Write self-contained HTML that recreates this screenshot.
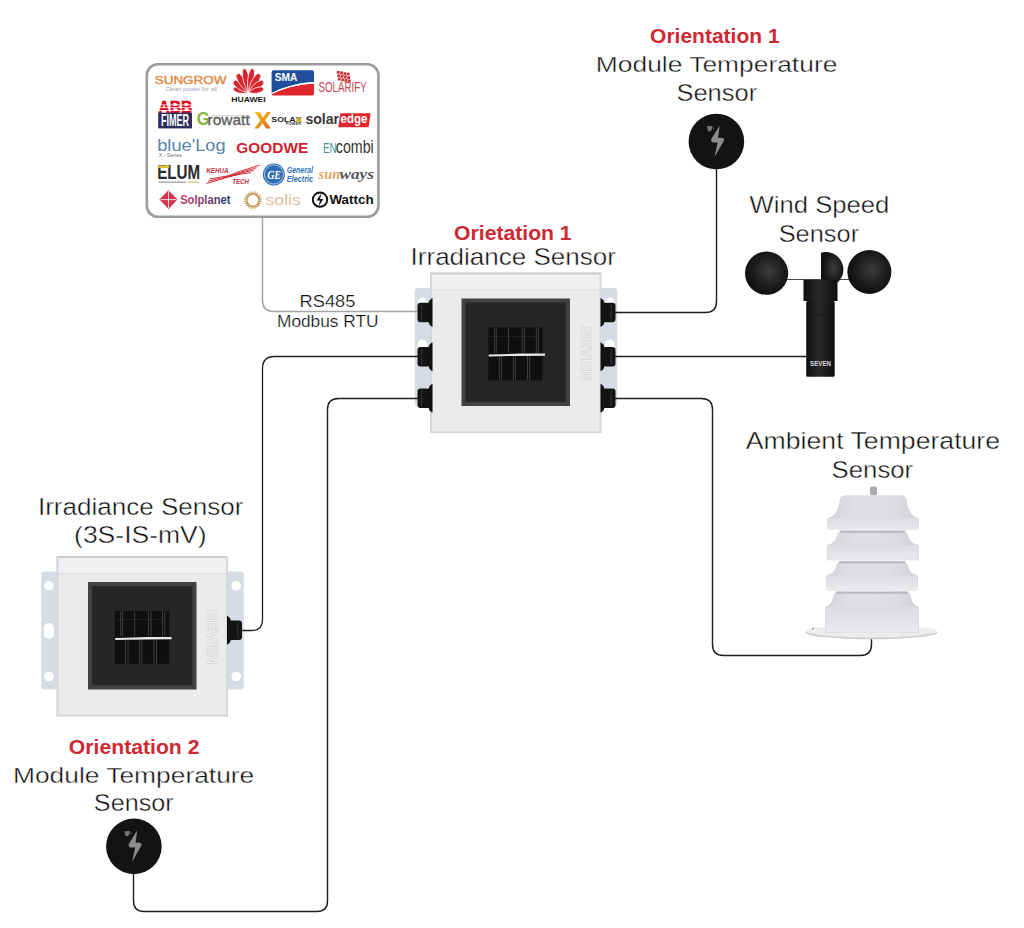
<!DOCTYPE html>
<html><head><meta charset="utf-8"><style>
html,body{margin:0;padding:0;background:#fff;width:1024px;height:928px;overflow:hidden}
svg{display:block}
</style></head><body>
<svg width="1024" height="928" viewBox="0 0 1024 928">
<rect width="1024" height="928" fill="#fff"/>
<rect x="146.8" y="64.3" width="231.6" height="152.4" rx="11" fill="#fff" stroke="#9c9c9c" stroke-width="2.6"/>
<text x="154.69" y="83.7" font-size="11.48" textLength="71.76" lengthAdjust="spacingAndGlyphs" fill="#e08c48" font-weight="normal" font-style="normal" font-family='"Liberation Sans", sans-serif' stroke="#e08c48" stroke-width="0.45">SUNGROW</text><text x="165.18" y="90.6" font-size="4.97" textLength="51.73" lengthAdjust="spacingAndGlyphs" fill="#a0a4b4" font-weight="normal" font-style="normal" font-family='"Liberation Sans", sans-serif' >Clean power for all</text><path d="M0,0 Q4.68,-8.25 1.80,-15.00 Q0,-16.20 -1.80,-15.00 Q-4.68,-8.25 0,0 Z" transform="translate(248.4,92.5) rotate(-76)" fill="#d9262e" stroke="#fff" stroke-width="0.7"/><path d="M0,0 Q5.20,-9.90 2.00,-18.00 Q0,-19.20 -2.00,-18.00 Q-5.20,-9.90 0,0 Z" transform="translate(248.4,92.5) rotate(-53)" fill="#d9262e" stroke="#fff" stroke-width="0.7"/><path d="M0,0 Q5.33,-11.55 2.05,-21.00 Q0,-22.20 -2.05,-21.00 Q-5.33,-11.55 0,0 Z" transform="translate(248.4,92.5) rotate(-31)" fill="#d9262e" stroke="#fff" stroke-width="0.7"/><path d="M0,0 Q4.94,-12.93 1.90,-23.50 Q0,-24.70 -1.90,-23.50 Q-4.94,-12.93 0,0 Z" transform="translate(248.4,92.5) rotate(-10)" fill="#d9262e" stroke="#fff" stroke-width="0.7"/><path d="M0,0 Q4.94,-12.93 1.90,-23.50 Q0,-24.70 -1.90,-23.50 Q-4.94,-12.93 0,0 Z" transform="translate(248.4,92.5) rotate(10)" fill="#d9262e" stroke="#fff" stroke-width="0.7"/><path d="M0,0 Q5.33,-11.55 2.05,-21.00 Q0,-22.20 -2.05,-21.00 Q-5.33,-11.55 0,0 Z" transform="translate(248.4,92.5) rotate(31)" fill="#d9262e" stroke="#fff" stroke-width="0.7"/><path d="M0,0 Q5.20,-9.90 2.00,-18.00 Q0,-19.20 -2.00,-18.00 Q-5.20,-9.90 0,0 Z" transform="translate(248.4,92.5) rotate(53)" fill="#d9262e" stroke="#fff" stroke-width="0.7"/><path d="M0,0 Q4.68,-8.25 1.80,-15.00 Q0,-16.20 -1.80,-15.00 Q-4.68,-8.25 0,0 Z" transform="translate(248.4,92.5) rotate(76)" fill="#d9262e" stroke="#fff" stroke-width="0.7"/><text x="231.23" y="102.1" font-size="7.27" textLength="34.44" lengthAdjust="spacingAndGlyphs" fill="#1a1a1a" font-weight="bold" font-style="normal" font-family='"Liberation Sans", sans-serif' >HUAWEI</text><path d="M271.6,72.3 Q271.6,70.3 273.6,70.3 L312,70.3 Q314,70.3 314,72.3 L314,82 Q292,83 271.6,93 Z" fill="#1f4f9a"/><path d="M271.6,94 Q292,84.5 314,83.5 L314,93.6 Q314,95.6 312,95.6 L273.6,95.6 Q271.6,95.6 271.6,93.6 Z" fill="#e1252f"/><path d="M271.6,93 Q292,83 314,82 L314,83.5 Q292,84.5 271.6,94 Z" fill="#fff"/><text x="274.71" y="81" font-size="10.17" textLength="22.56" lengthAdjust="spacingAndGlyphs" fill="#fff" font-weight="bold" font-style="normal" font-family='"Liberation Sans", sans-serif' >SMA</text><g transform="translate(10,0)"><rect x="337.0" y="71.0" width="2.8" height="2.8" fill="#c8343e" transform="skewX(-8)" /><rect x="340.4" y="71.6" width="2.8" height="2.8" fill="#c8343e" transform="skewX(-8)" /><rect x="343.8" y="72.2" width="2.8" height="2.8" fill="#c8343e" transform="skewX(-8)" /><rect x="347.2" y="72.8" width="2.8" height="2.8" fill="#c8343e" transform="skewX(-8)" /><rect x="338.0" y="74.4" width="2.8" height="2.8" fill="#c8343e" transform="skewX(-8)" /><rect x="341.4" y="75.0" width="2.8" height="2.8" fill="#c8343e" transform="skewX(-8)" /><rect x="344.8" y="75.6" width="2.8" height="2.8" fill="#c8343e" transform="skewX(-8)" /><rect x="348.2" y="76.2" width="2.8" height="2.8" fill="#c8343e" transform="skewX(-8)" /><rect x="339.0" y="77.8" width="2.8" height="2.8" fill="#c8343e" transform="skewX(-8)" /><rect x="342.4" y="78.4" width="2.8" height="2.8" fill="#c8343e" transform="skewX(-8)" /><rect x="345.8" y="79.0" width="2.8" height="2.8" fill="#c8343e" transform="skewX(-8)" /><rect x="349.2" y="79.6" width="2.8" height="2.8" fill="#c8343e" transform="skewX(-8)" /></g><text x="318.46" y="92.3" font-size="14.39" textLength="48.26" lengthAdjust="spacingAndGlyphs" fill="#c8464e" font-weight="normal" font-style="normal" font-family='"Liberation Sans", sans-serif' >SOLARIFY</text><text x="158.41" y="112.6" font-size="17.01" textLength="33.9" lengthAdjust="spacingAndGlyphs" fill="#e1001a" font-weight="bold" font-style="normal" font-family='"Liberation Sans", sans-serif' stroke="#e1001a" stroke-width="0.6">ABB</text><rect x="158.6" y="104.5" width="33.2" height="0.8" fill="#fff"/><rect x="158.6" y="107.3" width="33.2" height="0.8" fill="#fff"/><rect x="158.6" y="110" width="33.2" height="0.8" fill="#fff"/><rect x="158.2" y="112.6" width="33.8" height="15.8" fill="#2c2e5e"/><text x="160.9" y="126.3" font-size="16.57" textLength="28.09" lengthAdjust="spacingAndGlyphs" fill="#fff" font-weight="bold" font-style="normal" font-family='"Liberation Sans", sans-serif' >FIMER</text><text x="196.83" y="124.9" font-size="17.88" textLength="12.79" lengthAdjust="spacingAndGlyphs" fill="#7db443" font-weight="bold" font-style="normal" font-family='"Liberation Sans", sans-serif' >G</text><text x="207.57" y="124.9" font-size="15.52" textLength="42.14" lengthAdjust="spacingAndGlyphs" fill="#5e5e5e" font-weight="normal" font-style="normal" font-family='"Liberation Sans", sans-serif' stroke="#5e5e5e" stroke-width="0.35">rowatt</text><rect x="212" y="115.6" width="38" height="0.6" fill="#b0b0b0"/><defs><linearGradient id="sx" x1="0" y1="0" x2="1" y2="1"><stop offset="0" stop-color="#f5c518"/><stop offset="1" stop-color="#e2661a"/></linearGradient></defs><path d="M254.6,112 L259.6,112 L262.8,117.8 L267,112 L271,112 L265,120.3 L271,128.6 L266,128.6 L262.6,123 L258.6,128.6 L254.4,128.6 L260.4,120.3 Z" fill="url(#sx)"/><text x="271.35" y="122.2" font-size="6.4" textLength="30.13" lengthAdjust="spacingAndGlyphs" fill="#222" font-weight="bold" font-style="normal" font-family='"Liberation Sans", sans-serif' >SOLAX</text><rect x="296" y="117.8" width="5.4" height="4.4" fill="#f0c020" opacity="0.7"/><text x="285.73" y="125.4" font-size="3.2" textLength="15.36" lengthAdjust="spacingAndGlyphs" fill="#444" font-weight="bold" font-style="normal" font-family='"Liberation Sans", sans-serif' >POWER</text><text x="305.4" y="123.5" font-size="14.21" textLength="33.71" lengthAdjust="spacingAndGlyphs" fill="#383838" font-weight="bold" font-style="normal" font-family='"Liberation Sans", sans-serif' >solar</text><path d="M340.4,113.3 L370.6,113.3 L368.6,127.3 L338.2,127.3 Z" fill="#e2262c"/><text x="340.55" y="123.2" font-size="12.7" textLength="26.84" lengthAdjust="spacingAndGlyphs" fill="#fff" font-weight="bold" font-style="normal" font-family='"Liberation Sans", sans-serif' >edge</text><text x="157.23" y="150.5" font-size="16.15" textLength="68.35" lengthAdjust="spacingAndGlyphs" fill="#5884ab" font-weight="normal" font-style="normal" font-family='"Liberation Sans", sans-serif' >blue'Log</text><text x="158.68" y="156.7" font-size="5.23" textLength="23.11" lengthAdjust="spacingAndGlyphs" fill="#707070" font-weight="normal" font-style="normal" font-family='"Liberation Sans", sans-serif' >X - Series</text><text x="236.37" y="152.7" font-size="14.24" textLength="71.83" lengthAdjust="spacingAndGlyphs" fill="#d01f2e" font-weight="bold" font-style="normal" font-family='"Liberation Sans", sans-serif' >GOODWE</text><text x="322.89" y="153.4" font-size="13.81" textLength="13.71" lengthAdjust="spacingAndGlyphs" fill="#3d9a9c" font-weight="normal" font-style="normal" font-family='"Liberation Sans", sans-serif' >EN</text><text x="335.8" y="153.4" font-size="18.08" textLength="37.96" lengthAdjust="spacingAndGlyphs" fill="#333" font-weight="normal" font-style="normal" font-family='"Liberation Sans", sans-serif' >combi</text><text x="157.18" y="179.1" font-size="19.62" textLength="43.03" lengthAdjust="spacingAndGlyphs" fill="#2b2b2b" font-weight="bold" font-style="normal" font-family='"Liberation Sans", sans-serif' >ELUM</text><rect x="158.2" y="165.4" width="11" height="2.6" fill="#e2c33c"/><rect x="158.4" y="181.6" width="28" height="1.2" fill="#9a9a9a"/><rect x="188" y="181.6" width="11" height="1.2" fill="#d9c070"/><text x="206.19" y="172.6" font-size="6.69" textLength="22.26" lengthAdjust="spacingAndGlyphs" fill="#c7303e" font-weight="bold" font-style="italic" font-family='"Liberation Sans", sans-serif' >KEHUA</text><path d="M224.0,177.5 Q242,170.0 259.6,165.3" fill="none" stroke="#d6343f" stroke-width="1.05"/><path d="M226.0,177.1 Q242,171.2 256.6,167.8" fill="none" stroke="#d6343f" stroke-width="1.05"/><path d="M228.0,176.7 Q242,172.4 253.6,170.3" fill="none" stroke="#d6343f" stroke-width="1.05"/><path d="M230.0,176.3 Q242,173.6 250.6,172.8" fill="none" stroke="#d6343f" stroke-width="1.05"/><path d="M206.5,183.6 Q222,179.0 240.0,173.5" fill="none" stroke="#d6343f" stroke-width="1.05"/><path d="M208.0,181.3 Q222,177.8 239.0,174.0" fill="none" stroke="#d6343f" stroke-width="1.05"/><path d="M209.5,179.0 Q222,176.6 238.0,174.5" fill="none" stroke="#d6343f" stroke-width="1.05"/><text x="232.16" y="183.8" font-size="7.7" textLength="16.73" lengthAdjust="spacingAndGlyphs" fill="#c7303e" font-weight="bold" font-style="italic" font-family='"Liberation Sans", sans-serif' >TECH</text><circle cx="273.9" cy="174.5" r="11" fill="#2f6db4"/><circle cx="273.9" cy="174.5" r="9.6" fill="none" stroke="#fff" stroke-width="0.6"/><text x="267.16" y="179" font-size="13.08" textLength="13.79" lengthAdjust="spacingAndGlyphs" fill="#fff" font-weight="bold" font-style="italic" font-family='"Liberation Serif", serif' >GE</text><text x="286.66" y="173.3" font-size="8.87" textLength="26.22" lengthAdjust="spacingAndGlyphs" fill="#3070b4" font-weight="bold" font-style="italic" font-family='"Liberation Sans", sans-serif' >General</text><text x="286.87" y="181.9" font-size="9.88" textLength="26.23" lengthAdjust="spacingAndGlyphs" fill="#3070b4" font-weight="bold" font-style="italic" font-family='"Liberation Sans", sans-serif' >Electric</text><text x="318.58" y="179.4" font-size="14.01" textLength="21.63" lengthAdjust="spacingAndGlyphs" fill="#e6a66a" font-weight="bold" font-style="italic" font-family='"Liberation Serif", serif' >sun</text><text x="339.48" y="179.4" font-size="14.01" textLength="34.45" lengthAdjust="spacingAndGlyphs" fill="#555" font-weight="bold" font-style="italic" font-family='"Liberation Serif", serif' >ways</text><path d="M168.5,190.3 L177.5,199.6 L168.5,209 L159.4,199.6 Z" fill="#d8344e"/><path d="M168.5,191 L168.5,208 M160.5,199.6 L176.5,199.6" stroke="#fff" stroke-width="0.8"/><defs><linearGradient id="spg" x1="0" x2="1"><stop offset="0" stop-color="#c83a68"/><stop offset="1" stop-color="#2c3a72"/></linearGradient></defs><text x="180.18" y="204.3" font-size="11.92" textLength="50.26" lengthAdjust="spacingAndGlyphs" fill="url(#spg)" font-weight="bold" font-style="normal" font-family='"Liberation Sans", sans-serif' >Solplanet</text><path d="M-1,-6 L0,-10 L1,-6 Z" fill="#c8955a" transform="translate(252.9,200.2) rotate(0.0)"/><path d="M-1,-6 L0,-10 L1,-6 Z" fill="#c8955a" transform="translate(252.9,200.2) rotate(16.4)"/><path d="M-1,-6 L0,-10 L1,-6 Z" fill="#c8955a" transform="translate(252.9,200.2) rotate(32.7)"/><path d="M-1,-6 L0,-10 L1,-6 Z" fill="#c8955a" transform="translate(252.9,200.2) rotate(49.1)"/><path d="M-1,-6 L0,-10 L1,-6 Z" fill="#c8955a" transform="translate(252.9,200.2) rotate(65.5)"/><path d="M-1,-6 L0,-10 L1,-6 Z" fill="#c8955a" transform="translate(252.9,200.2) rotate(81.8)"/><path d="M-1,-6 L0,-10 L1,-6 Z" fill="#c8955a" transform="translate(252.9,200.2) rotate(98.2)"/><path d="M-1,-6 L0,-10 L1,-6 Z" fill="#c8955a" transform="translate(252.9,200.2) rotate(114.5)"/><path d="M-1,-6 L0,-10 L1,-6 Z" fill="#c8955a" transform="translate(252.9,200.2) rotate(130.9)"/><path d="M-1,-6 L0,-10 L1,-6 Z" fill="#c8955a" transform="translate(252.9,200.2) rotate(147.3)"/><path d="M-1,-6 L0,-10 L1,-6 Z" fill="#c8955a" transform="translate(252.9,200.2) rotate(163.6)"/><path d="M-1,-6 L0,-10 L1,-6 Z" fill="#c8955a" transform="translate(252.9,200.2) rotate(180.0)"/><path d="M-1,-6 L0,-10 L1,-6 Z" fill="#c8955a" transform="translate(252.9,200.2) rotate(196.4)"/><path d="M-1,-6 L0,-10 L1,-6 Z" fill="#c8955a" transform="translate(252.9,200.2) rotate(212.7)"/><path d="M-1,-6 L0,-10 L1,-6 Z" fill="#c8955a" transform="translate(252.9,200.2) rotate(229.1)"/><path d="M-1,-6 L0,-10 L1,-6 Z" fill="#c8955a" transform="translate(252.9,200.2) rotate(245.5)"/><path d="M-1,-6 L0,-10 L1,-6 Z" fill="#c8955a" transform="translate(252.9,200.2) rotate(261.8)"/><path d="M-1,-6 L0,-10 L1,-6 Z" fill="#c8955a" transform="translate(252.9,200.2) rotate(278.2)"/><path d="M-1,-6 L0,-10 L1,-6 Z" fill="#c8955a" transform="translate(252.9,200.2) rotate(294.5)"/><path d="M-1,-6 L0,-10 L1,-6 Z" fill="#c8955a" transform="translate(252.9,200.2) rotate(310.9)"/><path d="M-1,-6 L0,-10 L1,-6 Z" fill="#c8955a" transform="translate(252.9,200.2) rotate(327.3)"/><path d="M-1,-6 L0,-10 L1,-6 Z" fill="#c8955a" transform="translate(252.9,200.2) rotate(343.6)"/><circle cx="252.9" cy="200.2" r="6" fill="none" stroke="#c8955a" stroke-width="1.2"/><text x="265.51" y="205.1" font-size="15.04" textLength="35.33" lengthAdjust="spacingAndGlyphs" fill="#e0c09c" font-weight="normal" font-style="normal" font-family='"Liberation Sans", sans-serif' >solis</text><circle cx="320" cy="199.7" r="7.2" fill="none" stroke="#111" stroke-width="1.9"/><path d="M321.5,193 L316.5,200.5 L320,200.5 L318.5,206.5 L323.5,199 L320,199 Z" fill="#111"/><text x="329.49" y="203.9" font-size="12.35" textLength="44.13" lengthAdjust="spacingAndGlyphs" fill="#111" font-weight="bold" font-style="normal" font-family='"Liberation Sans", sans-serif' >Wattch</text>
<g transform="translate(0,0)"><rect x="414.7" y="288" width="20" height="118" rx="3" fill="#d6dbe4"/><rect x="597" y="288" width="20.3" height="118" rx="3" fill="#d6dbe4"/><circle cx="422.4" cy="302.3" r="4.8" fill="#fff"/><rect x="417.4" y="339.5" width="10" height="16" rx="5" fill="#fff"/><circle cx="422.4" cy="393" r="4.8" fill="#fff"/><circle cx="609.7" cy="302.3" r="4.8" fill="#fff"/><rect x="604.7" y="339.5" width="10" height="16" rx="5" fill="#fff"/><circle cx="609.7" cy="393" r="4.8" fill="#fff"/><rect x="430" y="272.5" width="171.5" height="160.5" fill="#ebebec"/><rect x="430" y="272.5" width="171.5" height="2.2" fill="#cdcdd1"/><rect x="432" y="274.7" width="167.5" height="14.8" fill="#f0f0f2"/><rect x="430" y="289.5" width="171.5" height="0.8" fill="#d9d9dd"/><rect x="430" y="272.5" width="2" height="160.5" fill="#d4d5da"/><rect x="599.5" y="272.5" width="2" height="160.5" fill="#d8d9de"/><rect x="430" y="431.3" width="171.5" height="1.7" fill="#d6d6da"/><rect x="461.5" y="298.5" width="108.5" height="107.5" fill="#424242"/><rect x="465.5" y="302.5" width="100.5" height="99.5" fill="#262626"/><rect x="488.3" y="327.5" width="54.3" height="52.8" fill="#0f0f0f"/><rect x="494.0" y="328" width="0.6" height="25" fill="#5c5c5c"/><rect x="495.9" y="328" width="0.6" height="25" fill="#5c5c5c"/><rect x="508.0" y="328" width="0.6" height="25" fill="#5c5c5c"/><rect x="521.9000000000001" y="328" width="0.6" height="25" fill="#5c5c5c"/><rect x="524.2" y="328" width="0.6" height="25" fill="#5c5c5c"/><rect x="535.9000000000001" y="328" width="0.6" height="25" fill="#5c5c5c"/><rect x="538.1" y="328" width="0.6" height="25" fill="#5c5c5c"/><rect x="498.9" y="356" width="0.6" height="24" fill="#5c5c5c"/><rect x="501.2" y="356" width="0.6" height="24" fill="#5c5c5c"/><rect x="512.9000000000001" y="356" width="0.6" height="24" fill="#5c5c5c"/><rect x="515.1" y="356" width="0.6" height="24" fill="#5c5c5c"/><rect x="527.2" y="356" width="0.6" height="24" fill="#5c5c5c"/><rect x="529.5" y="356" width="0.6" height="24" fill="#5c5c5c"/><rect x="489" y="336" width="50" height="0.5" fill="#333"/><path d="M488.7,354.6 L500,354.2 L520,353.6 L545,353.4 L545,355.8 L520,356 L500,356.2 L488.7,356.4 Z" fill="#e8e8e8"/><text x="0" y="0" transform="translate(580.5,326) rotate(90)" font-size="14" font-weight="bold" fill="#f3f3f5" stroke="#d2d2d6" stroke-width="0.6" font-family='"Liberation Sans", sans-serif' textLength="55" lengthAdjust="spacingAndGlyphs">SEVEN</text></g>
<g transform="translate(-373.5,283.5)"><rect x="414.7" y="288" width="20" height="118" rx="3" fill="#d6dbe4"/><rect x="597" y="288" width="20.3" height="118" rx="3" fill="#d6dbe4"/><circle cx="422.4" cy="302.3" r="4.8" fill="#fff"/><rect x="417.4" y="339.5" width="10" height="16" rx="5" fill="#fff"/><circle cx="422.4" cy="393" r="4.8" fill="#fff"/><circle cx="609.7" cy="302.3" r="4.8" fill="#fff"/><rect x="604.7" y="339.5" width="10" height="16" rx="5" fill="#fff"/><circle cx="609.7" cy="393" r="4.8" fill="#fff"/><rect x="430" y="272.5" width="171.5" height="160.5" fill="#ebebec"/><rect x="430" y="272.5" width="171.5" height="2.2" fill="#cdcdd1"/><rect x="432" y="274.7" width="167.5" height="14.8" fill="#f0f0f2"/><rect x="430" y="289.5" width="171.5" height="0.8" fill="#d9d9dd"/><rect x="430" y="272.5" width="2" height="160.5" fill="#d4d5da"/><rect x="599.5" y="272.5" width="2" height="160.5" fill="#d8d9de"/><rect x="430" y="431.3" width="171.5" height="1.7" fill="#d6d6da"/><rect x="461.5" y="298.5" width="108.5" height="107.5" fill="#424242"/><rect x="465.5" y="302.5" width="100.5" height="99.5" fill="#262626"/><rect x="488.3" y="327.5" width="54.3" height="52.8" fill="#0f0f0f"/><rect x="494.0" y="328" width="0.6" height="25" fill="#5c5c5c"/><rect x="495.9" y="328" width="0.6" height="25" fill="#5c5c5c"/><rect x="508.0" y="328" width="0.6" height="25" fill="#5c5c5c"/><rect x="521.9000000000001" y="328" width="0.6" height="25" fill="#5c5c5c"/><rect x="524.2" y="328" width="0.6" height="25" fill="#5c5c5c"/><rect x="535.9000000000001" y="328" width="0.6" height="25" fill="#5c5c5c"/><rect x="538.1" y="328" width="0.6" height="25" fill="#5c5c5c"/><rect x="498.9" y="356" width="0.6" height="24" fill="#5c5c5c"/><rect x="501.2" y="356" width="0.6" height="24" fill="#5c5c5c"/><rect x="512.9000000000001" y="356" width="0.6" height="24" fill="#5c5c5c"/><rect x="515.1" y="356" width="0.6" height="24" fill="#5c5c5c"/><rect x="527.2" y="356" width="0.6" height="24" fill="#5c5c5c"/><rect x="529.5" y="356" width="0.6" height="24" fill="#5c5c5c"/><rect x="489" y="336" width="50" height="0.5" fill="#333"/><path d="M488.7,354.6 L500,354.2 L520,353.6 L545,353.4 L545,355.8 L520,356 L500,356.2 L488.7,356.4 Z" fill="#e8e8e8"/><text x="0" y="0" transform="translate(580.5,326) rotate(90)" font-size="14" font-weight="bold" fill="#f3f3f5" stroke="#d2d2d6" stroke-width="0.6" font-family='"Liberation Sans", sans-serif' textLength="55" lengthAdjust="spacingAndGlyphs">SEVEN</text></g>

<path d="M262.5,217 V300.5 Q262.5,311.5 273.5,311.5 H420" fill="none" stroke="#a4a4a4" stroke-width="1.5"/>
<path d="M612,312.5 H705.5 Q716.5,312.5 716.5,301.5 V165" fill="none" stroke="#1e1e1e" stroke-width="1.4"/>
<path d="M612,356.5 H810" fill="none" stroke="#1e1e1e" stroke-width="1.4"/>
<path d="M612,398.5 H701.5 Q712.5,398.5 712.5,409.5 V644.5 Q712.5,655.5 723.5,655.5 H860.5 Q871.5,655.5 871.5,644.5 V630" fill="none" stroke="#1e1e1e" stroke-width="1.4"/>
<path d="M420,356.5 H274.5 Q262.5,356.5 262.5,368.5 V619.5 Q262.5,630.5 251.5,630.5 H238" fill="none" stroke="#1e1e1e" stroke-width="1.3"/>
<path d="M420,398.5 H338.5 Q327.5,398.5 327.5,409.5 V901 Q327.5,911.5 317,911.5 H144 Q133.5,911.5 133.5,901 V870" fill="none" stroke="#1e1e1e" stroke-width="1.4"/>

<path d="M432.5,298.0 Q429,299.5 428.5,303.5 L428.5,321.5 Q429,325.5 432.5,327.0 Z" fill="#111"/><rect x="417.5" y="302.7" width="13" height="19.6" rx="3" fill="#141414"/><rect x="421" y="304.5" width="1.2" height="16" fill="#2e2e2e"/><path d="M432.5,342.2 Q429,343.7 428.5,347.7 L428.5,365.7 Q429,369.7 432.5,371.2 Z" fill="#111"/><rect x="417.5" y="346.9" width="13" height="19.6" rx="3" fill="#141414"/><rect x="421" y="348.7" width="1.2" height="16" fill="#2e2e2e"/><path d="M432.5,383.7 Q429,385.2 428.5,389.2 L428.5,407.2 Q429,411.2 432.5,412.7 Z" fill="#111"/><rect x="417.5" y="388.4" width="13" height="19.6" rx="3" fill="#141414"/><rect x="421" y="390.2" width="1.2" height="16" fill="#2e2e2e"/><path d="M600.5,298.0 Q604,299.5 604.5,303.5 L604.5,321.5 Q604,325.5 600.5,327.0 Z" fill="#111"/><rect x="602.5" y="302.7" width="13" height="19.6" rx="3" fill="#141414"/><rect x="610.5" y="304.5" width="1.2" height="16" fill="#2e2e2e"/><path d="M600.5,342.2 Q604,343.7 604.5,347.7 L604.5,365.7 Q604,369.7 600.5,371.2 Z" fill="#111"/><rect x="602.5" y="346.9" width="13" height="19.6" rx="3" fill="#141414"/><rect x="610.5" y="348.7" width="1.2" height="16" fill="#2e2e2e"/><path d="M600.5,383.7 Q604,385.2 604.5,389.2 L604.5,407.2 Q604,411.2 600.5,412.7 Z" fill="#111"/><rect x="602.5" y="388.4" width="13" height="19.6" rx="3" fill="#141414"/><rect x="610.5" y="390.2" width="1.2" height="16" fill="#2e2e2e"/><path d="M227.0,615.7 Q230.5,617.2 231.0,621.2 L231.0,639.2 Q230.5,643.2 227.0,644.7 Z" fill="#111"/><rect x="229.0" y="620.4000000000001" width="13" height="19.6" rx="3" fill="#141414"/><rect x="237.0" y="622.2" width="1.2" height="16" fill="#2e2e2e"/>
<g transform="translate(716.4,141.5)"><circle r="27.8" fill="#131313"/><path d="M3.3,-16.1 L-5.1,-2.5 Q-5.8,0.9 -3.2,1 L1.25,1.1 L-1.9,15.6 L7.6,-1.1 Q8.2,-3.5 5.6,-3.6 L1.7,-3.85 Z" fill="#8c8c8c"/><path d="M-9.6,-15.2 L-4,-15.4 L-4.6,-11.5 L-7.2,-9.8 L-8.6,-11 Z" fill="#767676"/><circle cx="-2.8" cy="-13.2" r="0.8" fill="#666"/></g><g transform="translate(133.9,846.4)"><circle r="27.8" fill="#131313"/><path d="M3.3,-16.1 L-5.1,-2.5 Q-5.8,0.9 -3.2,1 L1.25,1.1 L-1.9,15.6 L7.6,-1.1 Q8.2,-3.5 5.6,-3.6 L1.7,-3.85 Z" fill="#8c8c8c"/><path d="M-9.6,-15.2 L-4,-15.4 L-4.6,-11.5 L-7.2,-9.8 L-8.6,-11 Z" fill="#767676"/><circle cx="-2.8" cy="-13.2" r="0.8" fill="#666"/></g>

<defs>
<radialGradient id="cup" cx="0.55" cy="0.45" r="0.6"><stop offset="0" stop-color="#3c3c3c"/><stop offset="0.6" stop-color="#1c1c1c"/><stop offset="1" stop-color="#0c0c0c"/></radialGradient>
<linearGradient id="tube" x1="0" x2="1" y1="0" y2="0"><stop offset="0" stop-color="#0e0e0e"/><stop offset="0.45" stop-color="#2a2a2a"/><stop offset="1" stop-color="#0e0e0e"/></linearGradient>
</defs>
<line x1="786" y1="279.5" x2="850" y2="279.5" stroke="#4a4a4a" stroke-width="1"/>
<circle cx="766.6" cy="273.2" r="21.6" fill="url(#cup)"/>
<circle cx="869.4" cy="272" r="22" fill="url(#cup)"/>
<path d="M821,252.7 A17.5,17.5 0 1 1 821,286.3 Z" fill="url(#cup)"/>
<rect x="803.5" y="279.8" width="34" height="21.2" fill="url(#tube)"/>
<rect x="806.2" y="301" width="28.5" height="75.7" rx="1.5" fill="url(#tube)"/><rect x="815" y="314.5" width="12" height="0.8" fill="#0a0a0a" opacity="0.6"/>
<text x="810" y="366" font-size="7.5" font-weight="bold" fill="#d8d8d8" font-family='"Liberation Sans", sans-serif' textLength="21" lengthAdjust="spacingAndGlyphs">SEVEN</text>


<defs><linearGradient id="amb" x1="0" x2="1"><stop offset="0" stop-color="#d2d3d8"/><stop offset="0.3" stop-color="#dfe0e4"/><stop offset="0.7" stop-color="#dddee2"/><stop offset="1" stop-color="#d0d1d6"/></linearGradient>
<linearGradient id="ambrim" x1="0" x2="0" y1="0" y2="1"><stop offset="0" stop-color="#dcdde1"/><stop offset="1" stop-color="#e9e9ec"/></linearGradient></defs>
<ellipse cx="871.5" cy="632.6" rx="66" ry="6.6" fill="#cfd0d4"/><ellipse cx="871.5" cy="631.2" rx="65.5" ry="6.2" fill="#ededf0"/>
<circle cx="813" cy="628.5" r="1" fill="#999"/>
<rect x="870" y="486.4" width="7" height="9" rx="2" fill="#a9aaaf"/>
<path d="M845.5,495.2 L901,495.2 Q905,495.2 906.5,498.7 C907.5,507.5 910.6,516.7 917.2,517.5 Q918.7,517.8 918.7,519.5 L918.7,528.0 Q918.7,529.5 916.7,529.5 L829.3,529.5 Q827.3,529.5 827.3,528.0 L827.3,519.5 Q827.3,517.8 828.8,517.5 C835.7,516.7 839.0,507.5 840.0,498.7 Q841.5,495.2 845.5,495.2 Z" fill="url(#amb)"/><rect x="827.8" y="518.0" width="90.40000000000009" height="11.0" fill="url(#ambrim)"/><path d="M843,530.6 L902,530.6 Q906,530.6 907.5,534.1 C908.5,538.2 911.2,543.7 917.2,544.5 Q918.7,544.8 918.7,546.5 L918.7,558.7 Q918.7,560.2 916.7,560.2 L828.8,560.2 Q826.8,560.2 826.8,558.7 L826.8,546.5 Q826.8,544.8 828.3,544.5 C834.1,543.7 836.5,538.2 837.5,534.1 Q839,530.6 843,530.6 Z" fill="url(#amb)"/><rect x="827.3" y="545.0" width="90.90000000000009" height="14.700000000000045" fill="url(#ambrim)"/><rect x="840" y="530.6" width="65" height="2.2" fill="#b4b5ba" opacity="0.9"/><path d="M842,561.2 L902,561.2 Q906,561.2 907.5,564.7 C908.5,568.8 910.9,574.2 916.5,575 Q918,575.3 918,577 L918,589.0 Q918,590.5 916,590.5 L828,590.5 Q826,590.5 826,589.0 L826,577 Q826,575.3 827.5,575 C833.1,574.2 835.5,568.8 836.5,564.7 Q838,561.2 842,561.2 Z" fill="url(#amb)"/><rect x="826.5" y="575.5" width="91" height="14.5" fill="url(#ambrim)"/><rect x="839" y="561.2" width="66" height="2.2" fill="#b4b5ba" opacity="0.9"/><path d="M839,591.5 L905,591.5 Q909,591.5 910.5,595.0 C911.5,599.5 913.0,605.2 917.5,606 Q919,606.3 919,608 L919,631.5 Q919,633 917,633 L827,633 Q825,633 825,631.5 L825,608 Q825,606.3 826.5,606 C831.0,605.2 832.5,599.5 833.5,595.0 Q835,591.5 839,591.5 Z" fill="url(#amb)"/><rect x="825.5" y="606.5" width="93" height="26" fill="url(#ambrim)"/><rect x="836" y="591.5" width="72" height="2.2" fill="#b4b5ba" opacity="0.9"/>
<text x="650.14" y="42.6" font-size="20.79" textLength="129.44" lengthAdjust="spacingAndGlyphs" fill="#cf2833" font-weight="bold" font-style="normal" font-family='"Liberation Sans", sans-serif' >Orientation 1</text><text x="595.87" y="71.8" font-size="22.67" textLength="241.49" lengthAdjust="spacingAndGlyphs" fill="#0e0e0e" font-weight="normal" font-style="normal" font-family='"Liberation Sans", sans-serif'  stroke="#fff" stroke-width="0.4">Module Temperature</text><text x="676.44" y="101.2" font-size="23.26" textLength="80.78" lengthAdjust="spacingAndGlyphs" fill="#0e0e0e" font-weight="normal" font-style="normal" font-family='"Liberation Sans", sans-serif'  stroke="#fff" stroke-width="0.4">Sensor</text><text x="749.59" y="213.1" font-size="23.26" textLength="139.77" lengthAdjust="spacingAndGlyphs" fill="#0e0e0e" font-weight="normal" font-style="normal" font-family='"Liberation Sans", sans-serif'  stroke="#fff" stroke-width="0.4">Wind Speed</text><text x="778.65" y="241.6" font-size="23.26" textLength="80.53" lengthAdjust="spacingAndGlyphs" fill="#0e0e0e" font-weight="normal" font-style="normal" font-family='"Liberation Sans", sans-serif'  stroke="#fff" stroke-width="0.4">Sensor</text><text x="454.13" y="240.2" font-size="20.49" textLength="117.46" lengthAdjust="spacingAndGlyphs" fill="#cf2833" font-weight="bold" font-style="normal" font-family='"Liberation Sans", sans-serif' >Orietation 1</text><text x="410.6" y="264.5" font-size="23.4" textLength="205.33" lengthAdjust="spacingAndGlyphs" fill="#0e0e0e" font-weight="normal" font-style="normal" font-family='"Liberation Sans", sans-serif'  stroke="#fff" stroke-width="0.4">Irradiance Sensor</text><text x="299.5" y="306.9" font-size="16.13" textLength="55.87" lengthAdjust="spacingAndGlyphs" fill="#0e0e0e" font-weight="normal" font-style="normal" font-family='"Liberation Sans", sans-serif'  stroke="#fff" stroke-width="0.22">RS485</text><text x="276.99" y="326.6" font-size="15.84" textLength="101.54" lengthAdjust="spacingAndGlyphs" fill="#0e0e0e" font-weight="normal" font-style="normal" font-family='"Liberation Sans", sans-serif'  stroke="#fff" stroke-width="0.22">Modbus RTU</text><text x="745.85" y="448.6" font-size="23.84" textLength="254.22" lengthAdjust="spacingAndGlyphs" fill="#0e0e0e" font-weight="normal" font-style="normal" font-family='"Liberation Sans", sans-serif'  stroke="#fff" stroke-width="0.4">Ambient Temperature</text><text x="831.63" y="477.5" font-size="23.26" textLength="81.49" lengthAdjust="spacingAndGlyphs" fill="#0e0e0e" font-weight="normal" font-style="normal" font-family='"Liberation Sans", sans-serif'  stroke="#fff" stroke-width="0.4">Sensor</text><text x="37.9" y="514.8" font-size="23.26" textLength="205.64" lengthAdjust="spacingAndGlyphs" fill="#0e0e0e" font-weight="normal" font-style="normal" font-family='"Liberation Sans", sans-serif'  stroke="#fff" stroke-width="0.4">Irradiance Sensor</text><text x="74.06" y="543.3" font-size="23.26" textLength="132.59" lengthAdjust="spacingAndGlyphs" fill="#0e0e0e" font-weight="normal" font-style="normal" font-family='"Liberation Sans", sans-serif'  stroke="#fff" stroke-width="0.4">(3S-IS-mV)</text><text x="68.83" y="753.9" font-size="19.91" textLength="130.62" lengthAdjust="spacingAndGlyphs" fill="#cf2833" font-weight="bold" font-style="normal" font-family='"Liberation Sans", sans-serif' >Orientation 2</text><text x="12.97" y="783.3" font-size="22.97" textLength="241.29" lengthAdjust="spacingAndGlyphs" fill="#0e0e0e" font-weight="normal" font-style="normal" font-family='"Liberation Sans", sans-serif'  stroke="#fff" stroke-width="0.4">Module Temperature</text><text x="93.86" y="811.2" font-size="23.26" textLength="79.76" lengthAdjust="spacingAndGlyphs" fill="#0e0e0e" font-weight="normal" font-style="normal" font-family='"Liberation Sans", sans-serif'  stroke="#fff" stroke-width="0.4">Sensor</text>
</svg>
</body></html>
